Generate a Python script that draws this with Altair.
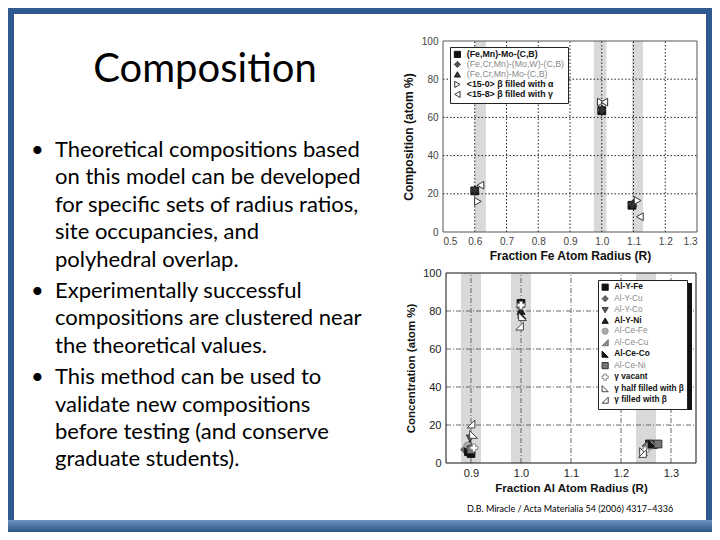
import altair as alt
import pandas as pd

W, H = 704, 524

# ---------------- slide text ----------------
title_text = "Composition"
bullets = [
    ["Theoretical compositions based", "on this model can be developed",
     "for specific sets of radius ratios,", "site occupancies, and", "polyhedral overlap."],
    ["Experimentally successful", "compositions are clustered near", "the theoretical values."],
    ["This method can be used to", "validate new compositions",
     "before testing (and conserve", "graduate students)."],
]
citation = "D.B. Miracle / Acta Materialia 54 (2006) 4317\u20134336"

# ---------------- top chart data ----------------
top_series = ["(Fe,Mn)-Mo-(C,B)", "(Fe,Cr,Mn)-(Mo,W)-(C,B)", "(Fe,Cr,Mn)-Mo-(C,B)",
              "<15-0> \u03b2 filled with \u03b1", "<15-8> \u03b2 filled with \u03b3"]
top_grey_labels = ["(Fe,Cr,Mn)-(Mo,W)-(C,B)", "(Fe,Cr,Mn)-Mo-(C,B)"]
top_shapes = ["square", "diamond", "triangle-up", "triangle-right", "triangle-left"]
top_fill = ["#111111", "#555555", "#333333", "#ffffff", "#ffffff"]
top_stroke = ["#111111", "#444444", "#222222", "#333333", "#333333"]
top_x = [[0.600, 1.000, 1.095], [0.600, 1.000, 1.096], [0.601, 1.001, 1.098],
         [0.610, 0.997, 1.113], [0.618, 1.008, 1.120]]
top_y = [[21.5, 63.5, 14.0], [22.0, 64.0, 14.5], [22.5, 64.5, 15.0],
         [16.0, 68.0, 16.5], [24.5, 68.0, 8.0]]
top_band_lo = [0.600, 0.975, 1.095]
top_band_hi = [0.635, 1.015, 1.130]
top_xticks = [0.5, 0.6, 0.7, 0.8, 0.9, 1.0, 1.1, 1.2, 1.3]
top_yticks = [0, 20, 40, 60, 80, 100]

# ---------------- bottom chart data ----------------
bot_series = ["Al-Y-Fe", "Al-Y-Cu", "Al-Y-Co", "Al-Y-Ni", "Al-Ce-Fe", "Al-Ce-Cu",
              "Al-Ce-Co", "Al-Ce-Ni", "\u03b3 vacant", "\u03b3 half filled with \u03b2",
              "\u03b3 filled with \u03b2"]
bot_grey_labels = ["Al-Y-Cu", "Al-Y-Co", "Al-Ce-Fe", "Al-Ce-Cu", "Al-Ce-Ni"]
bot_shapes = ["square", "diamond", "triangle-down", "triangle-up", "circle",
              "M1,-1L1,1L-1,1Z", "M-1,-1L-1,1L1,1Z", "square", "cross",
              "M-1,-1L-1,1L1,1Z", "M1,-1L1,1L-1,1Z"]
bot_fill = ["#111111", "#666666", "#555555", "#222222", "#aaaaaa", "#888888",
            "#111111", "#777777", "#ffffff", "#ffffff", "#ffffff"]
bot_stroke = ["#111111", "#555555", "#444444", "#111111", "#999999", "#777777",
              "#111111", "#333333", "#888888", "#444444", "#444444"]
bot_x = [[0.900, 1.000, 1.257], [0.887, 0.998, 1.250], [0.898, 1.000, 1.260],
         [0.897, 1.000, 1.265], [0.893, 1.258], [0.892, 1.262],
         [0.895, 1.002, 1.262], [0.900, 1.274], [0.906, 1.000, 1.248],
         [0.905, 1.003, 1.245], [0.900, 0.997, 1.243]]
bot_y = [[5, 84, 10], [7, 82, 9], [13, 82, 10], [10, 80, 9.5], [9, 9], [8, 10],
         [6, 78, 10], [7, 10], [8, 83, 6.5], [15, 77, 6], [20.5, 72, 5]]
bot_band_lo = [0.880, 0.980, 1.230]
bot_band_hi = [0.920, 1.020, 1.270]
bot_xticks = [0.9, 1.0, 1.1, 1.2, 1.3]
bot_yticks = [0, 20, 40, 60, 80, 100]

AX_FONT = "Liberation Sans"


def points_df(series, xs, ys):
    rows = []
    for s, xl, yl in zip(series, xs, ys):
        for x, y in zip(xl, yl):
            rows.append({"series": s, "x": x, "y": y})
    return pd.DataFrame(rows)


def make_plot(series, grey, shapes, fills, strokes, xs, ys, band_lo, band_hi,
              xticks, yticks, xdom, xrange, yrange, xtitle, ytitle,
              grid_color, grid_dash, frame_color, legend_xy, row_pad,
              title_size, lab_color, tick_font, legend_font, xgrid, pt_size):
    sx = alt.Scale(domain=xdom, range=xrange, nice=False, zero=False)
    sy = alt.Scale(domain=[0, 100], range=yrange, nice=False, zero=False)
    axx = alt.Axis(orient="bottom", offset=yrange[0] - H, values=xticks, format=".1f",
                   title=xtitle, grid=False, domain=False, ticks=False,
                   labelFont=AX_FONT, labelFontSize=tick_font, labelColor=lab_color,
                   labelPadding=4, titleFont=AX_FONT, titleFontSize=title_size,
                   titleFontWeight="bold", titleColor="#111", titlePadding=4)
    axy = alt.Axis(orient="left", offset=-xrange[0], values=yticks, format="d",
                   title=ytitle, grid=False, domain=False, ticks=False,
                   labelFont=AX_FONT, labelFontSize=tick_font, labelColor=lab_color,
                   labelPadding=5, titleFont=AX_FONT, titleFontSize=title_size,
                   titleFontWeight="bold", titleColor="#111", titlePadding=6)

    bands = alt.Chart(pd.DataFrame({"lo": band_lo, "hi": band_hi, "b": 0, "t": 100})).mark_rect(
        color="#d9d9d9").encode(
        x=alt.X("lo:Q", scale=sx, axis=axx), x2="hi:Q",
        y=alt.Y("b:Q", scale=sy, axis=axy), y2="t:Q")

    gx = alt.Chart(pd.DataFrame({"gx": xgrid, "b": 0, "t": 100})).mark_rule(
        color=grid_color, strokeDash=grid_dash, strokeWidth=1).encode(
        x=alt.X("gx:Q", scale=sx, axis=axx),
        y=alt.Y("b:Q", scale=sy, axis=axy), y2="t:Q")

    gy = alt.Chart(pd.DataFrame({"gy": [v for v in yticks if 0 < v < 100],
                                 "l": xdom[0], "r": xdom[1]})).mark_rule(
        color=grid_color, strokeDash=grid_dash, strokeWidth=1).encode(
        x=alt.X("l:Q", scale=sx, axis=axx), x2="r:Q",
        y=alt.Y("gy:Q", scale=sy, axis=axy))

    frame = alt.Chart(pd.DataFrame({"l": [xdom[0]], "r": [xdom[1]], "b": [0], "t": [100]})).mark_rect(
        filled=False, stroke=frame_color, strokeWidth=1).encode(
        x=alt.X("l:Q", scale=sx, axis=axx), x2="r:Q",
        y=alt.Y("b:Q", scale=sy, axis=axy), y2="t:Q")

    grey_list = "[" + ",".join("'" + g + "'" for g in grey) + "]"
    leg = alt.Legend(orient="none", legendX=legend_xy[0], legendY=legend_xy[1], title=None,
                     labelFont=AX_FONT, labelFontSize=legend_font,
                     labelFontWeight={"expr": "indexof(%s, datum.label) >= 0 ? 'normal' : 'bold'" % grey_list},
                     labelColor={"expr": "indexof(%s, datum.label) >= 0 ? '#8a8a8a' : '#111111'" % grey_list},
                     symbolSize=38, symbolStrokeWidth=1, padding=3,
                     rowPadding=row_pad, strokeColor="#222", fillColor="white",
                     labelLimit=300, symbolOpacity=1, labelOffset=5)
    pts = alt.Chart(points_df(series, xs, ys)).mark_point(size=pt_size, opacity=1, strokeWidth=1).encode(
        x=alt.X("x:Q", scale=sx, axis=axx),
        y=alt.Y("y:Q", scale=sy, axis=axy),
        shape=alt.Shape("series:N", scale=alt.Scale(domain=series, range=shapes), legend=leg),
        fill=alt.Fill("series:N", scale=alt.Scale(domain=series, range=fills), legend=leg),
        stroke=alt.Stroke("series:N", scale=alt.Scale(domain=series, range=strokes), legend=leg),
    )
    return alt.layer(bands, gx, gy, frame, pts)


top = make_plot(top_series, top_grey_labels, top_shapes, top_fill, top_stroke, top_x, top_y,
                top_band_lo, top_band_hi, top_xticks, top_yticks, [0.5, 1.3],
                [435, 689], [224, 33], "Fraction Fe Atom Radius (R)", "Composition (atom %)",
                "#222", [1.5, 2], "#555", (442, 39), -2, 12, "#444", 10, 8.8,
                [0.6, 0.7, 0.8, 0.9, 1.0, 1.1, 1.2], 60)

bottom = make_plot(bot_series, bot_grey_labels, bot_shapes, bot_fill, bot_stroke, bot_x, bot_y,
                   bot_band_lo, bot_band_hi, bot_xticks, bot_yticks, [0.85, 1.35],
                   [438, 688], [455, 265], "Fraction Al Atom Radius (R)", "Concentration (atom %)",
                   "#666", [5, 2, 1, 2], "#111", (590, 272), 0.5, 11.5, "#222", 11, 8.3,
                   bot_xticks, 60)

# ---------------- slide text layers ----------------
rows = []
k = 0
for p, para in enumerate(bullets):
    for i, t in enumerate(para):
        rows.append({"t": t, "ypos": 142 + k * 27.4 + p * 4, "lead": i == 0})
        k += 1
df_lines = pd.DataFrame(rows)

title_layer = alt.Chart(pd.DataFrame({"t": [title_text]})).mark_text(
    font="Lato", fontSize=40, align="center", baseline="alphabetic", color="#000").encode(
    x=alt.value(197), y=alt.value(74), text="t:N")

lines_layer = alt.Chart(df_lines).mark_text(
    font="Lato", fontSize=22, align="left", baseline="middle", color="#000").encode(
    x=alt.value(47), y=alt.Y("ypos:Q", scale=None, axis=None), text="t:N")

bullet_layer = alt.Chart(df_lines[df_lines["lead"]]).mark_text(
    font="Lato", fontSize=22, align="left", baseline="middle", color="#000").encode(
    x=alt.value(23), y=alt.Y("ypos:Q", scale=None, axis=None), text=alt.value("\u2022"))

cite_layer = alt.Chart(pd.DataFrame({"t": [citation]})).mark_text(
    font="Lato", fontSize=9, align="center", baseline="middle", color="#000").encode(
    x=alt.value(562), y=alt.value(501), text="t:N")

bar_grad = alt.LinearGradient(gradient="linear", x1=0, x2=0, y1=0, y2=1,
                              stops=[alt.GradientStop(color="#6d95c4", offset=0),
                                     alt.GradientStop(color="#2b5385", offset=1)])
bottom_bar = alt.Chart(pd.DataFrame({"a": [0]})).mark_rect(color=bar_grad).encode(
    x=alt.value(0), x2=alt.value(W), y=alt.value(512), y2=alt.value(H))

# drop shadow behind the lower legend box
legend_shadow = alt.Chart(pd.DataFrame({"a": [0]})).mark_rect(color="#111").encode(
    x=alt.value(593), x2=alt.value(684), y=alt.value(275), y2=alt.value(402))

chart = alt.layer(
    bottom_bar, title_layer, lines_layer, bullet_layer, cite_layer, top, bottom, legend_shadow
).resolve_scale(
    x="independent", y="independent", shape="independent", fill="independent",
    stroke="independent"
).resolve_axis(
    x="independent", y="independent"
).resolve_legend(
    shape="independent", fill="independent", stroke="independent"
).properties(
    width=W, height=H, padding=0, autosize=alt.AutoSizeParams(type="none"),
    background="white"
).configure_view(
    stroke="#2f5b8f", strokeWidth=12
)

chart.save("out.html", embed_options={"renderer": "svg", "actions": False})
